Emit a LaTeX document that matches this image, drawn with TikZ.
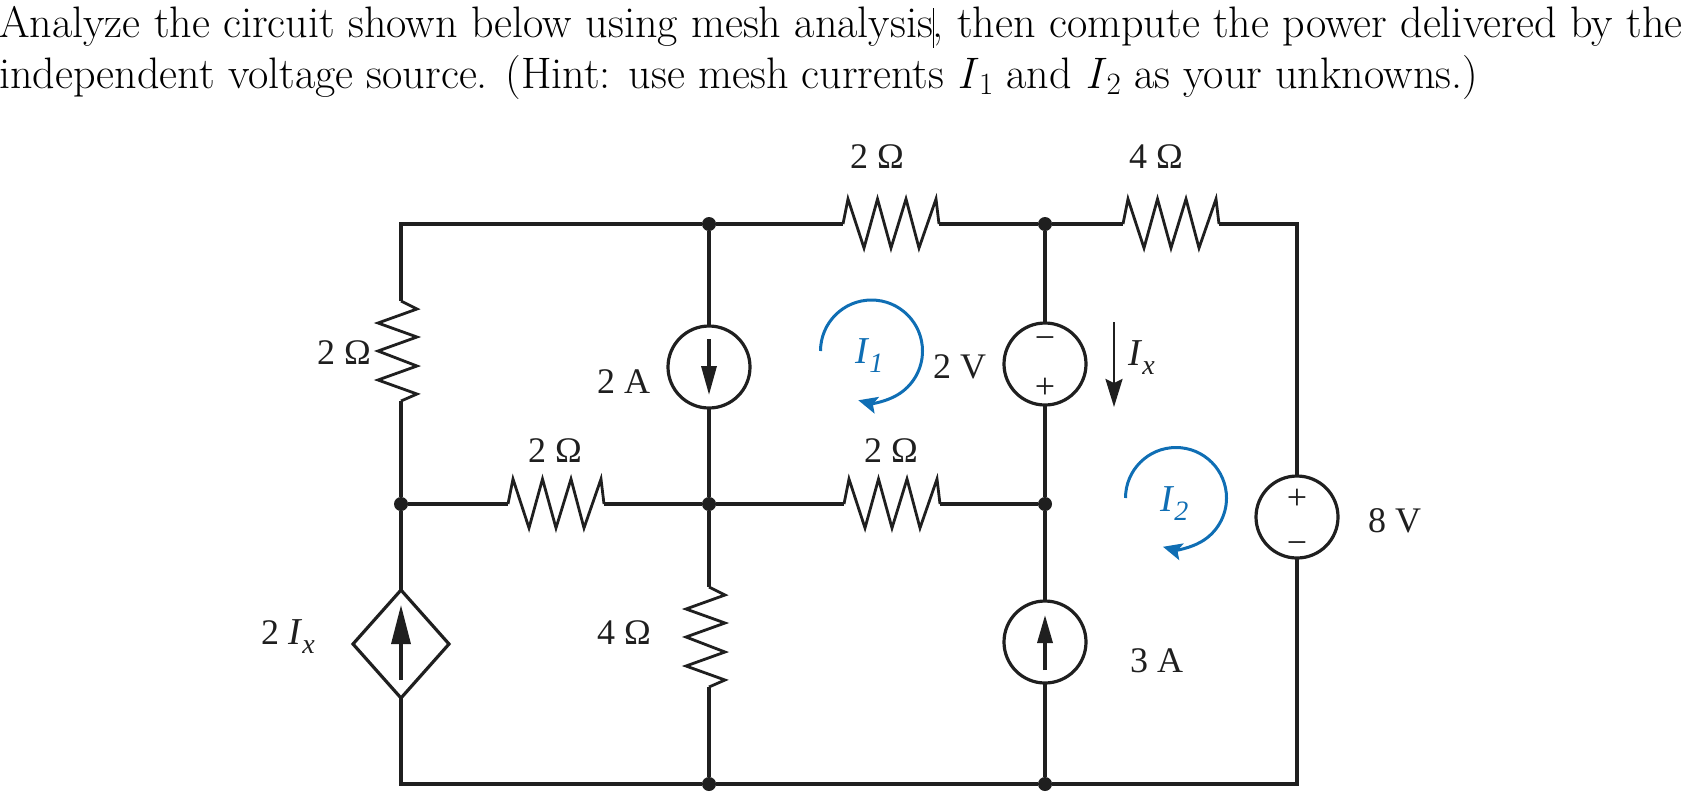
\documentclass[tikz,border=0pt]{standalone}
\usepackage{fontspec}
\usetikzlibrary{arrows.meta,shapes.geometric}
\newfontfamily\labfam{Liberation Serif}
\newcommand{\lab}{\labfam\fontsize{36}{40}\selectfont}
\newcommand{\Isub}[1]{{\fontsize{38}{40}\selectfont\textit{I}}\raisebox{-9pt}{\fontsize{28}{30}\selectfont\textit{#1}}}
\newcommand{\Qsub}[1]{\textit{I}\raisebox{-6pt}{\fontsize{31}{33}\selectfont #1}}
\definecolor{meshblue}{RGB}{15,110,180}
\tikzset{
  wire/.style={line width=3.4pt,line join=miter,black!88},
  zig/.style={line width=2.8pt,line join=miter,black!88},
  dot/.style={circle,fill=black!88,inner sep=0pt,minimum size=14pt},
  src/.style={circle,draw=black!88,line width=3.2pt,inner sep=0pt,outer sep=0pt,minimum size=82pt},
  dep/.style={diamond,draw=black!88,line width=3.2pt,inner sep=0pt,outer sep=0pt,minimum width=96pt,minimum height=108pt},
  lab/.style={anchor=base west,inner sep=0pt,font=\lab,black!88},
  sign/.style={anchor=base,inner sep=0pt,font=\lab,black!88},
  mesh/.style={-{Stealth[length=19pt,width=17pt,inset=4pt]},line width=3pt,meshblue},
  line/.style={anchor=base west,inner sep=0pt,font=\fontsize{44.1}{50}\selectfont},
  resh/.pic={
    \coordinate (-a) at (0,0);
    \coordinate (-b) at (96,0);
    \draw[zig] (-a) -- (5,-25) -- (21,24) -- (34.5,-25) -- (48,24) -- (63,-25) -- (76,24) -- (93,-25) -- (-b);
  },
  resv/.pic={
    \coordinate (-a) at (0,0);
    \coordinate (-b) at (0,100);
    \draw[zig] (-a) -- (16,8) -- (-23,22) -- (16,36) -- (-23,50) -- (16,65) -- (-23,79) -- (16,93) -- (-b);
  }
}
\begin{document}
\begin{tikzpicture}[x=1pt,y=-1pt]
  \useasboundingbox (0,0) rectangle (1702,807);

  %Question
  \node[line] (q1) at (-1,37) {Analyze the circuit shown below using mesh analysis, then compute the power delivered by the};
  \node[line] (q2) at (-1,88) {independent voltage source. (Hint: use mesh currents \Qsub{1} and \Qsub{2} as your unknowns.)};
  \coordinate (cura) at (933,8);
  \coordinate (curb) at (933,48);
  \draw[line width=1pt] (cura) -- (curb);

  %Nodes
  \node[dot] (nA) at (709,224) {};
  \node[dot] (nB) at (1045,224) {};
  \node[dot] (nC) at (401,504) {};
  \node[dot] (nD) at (709,504) {};
  \node[dot] (nE) at (1045,504) {};
  \node[dot] (nF) at (709,784) {};
  \node[dot] (nG) at (1045,784) {};
  \coordinate (tl) at (401,224);
  \coordinate (tr) at (1297,224);
  \coordinate (bl) at (401,784);
  \coordinate (br) at (1297,784);

  %Sources
  \node[src] (s2A) at (709,367) {};
  \node[src] (s2V) at (1045,364) {};
  \node[src] (s8V) at (1297,517) {};
  \node[src] (s3A) at (1045,642) {};
  \node[dep] (sdep) at (401,644) {};

  %Resistors
  \pic (r1) at (843,224) {resh};
  \pic (r2) at (1123,224) {resh};
  \pic (r3) at (508,504) {resh};
  \pic (r4) at (844,504) {resh};
  \pic (r5) at (401,301) {resv};
  \pic (r6) at (709,587) {resv};

  %Lines
  \draw[wire] (r5-a) -- (tl) -- (nA);
  \draw[wire] (nA) -- (r1-a);
  \draw[wire] (r1-b) -- (nB);
  \draw[wire] (nB) -- (r2-a);
  \draw[wire] (r2-b) -- (tr) -- (s8V);
  \draw[wire] (s8V) -- (br) -- (nG);
  \draw[wire] (nG) -- (nF);
  \draw[wire] (nF) -- (bl) -- (sdep);
  \draw[wire] (sdep) -- (nC);
  \draw[wire] (nC) -- (r5-b);
  \draw[wire] (nC) -- (r3-a);
  \draw[wire] (r3-b) -- (nD);
  \draw[wire] (nD) -- (r4-a);
  \draw[wire] (r4-b) -- (nE);
  \draw[wire] (nA) -- (s2A);
  \draw[wire] (s2A) -- (nD);
  \draw[wire] (nD) -- (r6-a);
  \draw[wire] (r6-b) -- (nF);
  \draw[wire] (nB) -- (s2V);
  \draw[wire] (s2V) -- (nE);
  \draw[wire] (nE) -- (s3A);
  \draw[wire] (s3A) -- (nG);

  %Source arrows
  \coordinate (a1) at (709,339);
  \coordinate (a2) at (709,395);
  \coordinate (a3) at (1045,670);
  \coordinate (a4) at (1045,615);
  \coordinate (a5) at (401,680);
  \coordinate (a6) at (401,605);
  \coordinate (a7) at (1114,322);
  \coordinate (a8) at (1114,407);
  \draw[-{Triangle[length=29pt,width=15pt]},wire] (a1) -- (a2);
  \draw[-{Triangle[length=28pt,width=15pt]},wire] (a3) -- (a4);
  \draw[-{Triangle[length=39pt,width=19pt]},wire] (a5) -- (a6);
  \draw[-{Stealth[length=28pt,width=17pt,inset=4pt]},line width=2.6pt,black!88] (a7) -- (a8);

  %Mesh currents
  \draw[mesh] (820.5,351) arc[start angle=180,end angle=465,radius=51];
  \draw[mesh] (1125.5,498) arc[start angle=180,end angle=465,radius=50.5];

  %Labels
  \node[lab] (l1) at (850,168) {2 Ω};
  \node[lab] (l2) at (1129,168) {4 Ω};
  \node[lab] (l3) at (317,364) {2 Ω};
  \node[lab] (l4) at (528,462) {2 Ω};
  \node[lab] (l5) at (864,462) {2 Ω};
  \node[lab] (l6) at (597,644) {4 Ω};
  \node[lab] (l7) at (261,644) {2 \Isub{x}};
  \node[lab] (l8) at (597,393) {2 A};
  \node[lab] (l9) at (933,378) {2 V};
  \node[lab] (l10) at (1128,365) {\Isub{x}};
  \node[lab] (l11) at (1130,672) {3 A};
  \node[lab] (l12) at (1368,532) {8 V};
  \node[lab,text=meshblue] (l13) at (855,363) {\Isub{1}};
  \node[lab,text=meshblue] (l14) at (1160,511) {\Isub{2}};
  \node[sign] (p1) at (1045,398) {+};
  \node[sign] (m1) at (1045,349) {−};
  \node[sign] (p2) at (1297,509) {+};
  \node[sign] (m2) at (1297,554) {−};
\end{tikzpicture}
\end{document}
